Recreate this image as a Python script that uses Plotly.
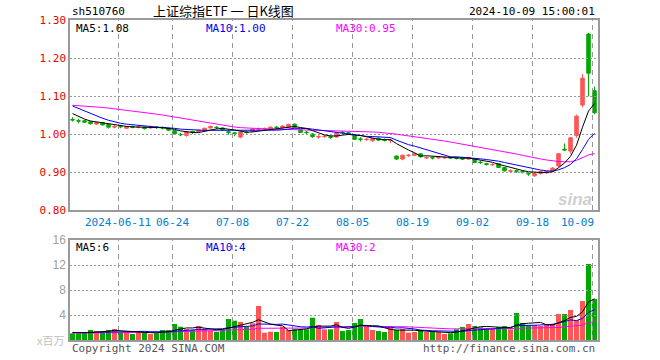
import plotly.graph_objects as go

# ---------------- data ----------------
dates = [
    "2024-05-29", "2024-05-30", "2024-05-31", "2024-06-03", "2024-06-04", "2024-06-05", "2024-06-06", "2024-06-07",
    "2024-06-11", "2024-06-12", "2024-06-13", "2024-06-14", "2024-06-17", "2024-06-18", "2024-06-19", "2024-06-20",
    "2024-06-21", "2024-06-24", "2024-06-25", "2024-06-26", "2024-06-27", "2024-06-28", "2024-07-01", "2024-07-02",
    "2024-07-03", "2024-07-04", "2024-07-05", "2024-07-08", "2024-07-09", "2024-07-10", "2024-07-11", "2024-07-12",
    "2024-07-15", "2024-07-16", "2024-07-17", "2024-07-18", "2024-07-19", "2024-07-22", "2024-07-23", "2024-07-24",
    "2024-07-25", "2024-07-26", "2024-07-29", "2024-07-30", "2024-07-31", "2024-08-01", "2024-08-02", "2024-08-05",
    "2024-08-06", "2024-08-07", "2024-08-08", "2024-08-09", "2024-08-12", "2024-08-13", "2024-08-14", "2024-08-15",
    "2024-08-16", "2024-08-19", "2024-08-20", "2024-08-21", "2024-08-22", "2024-08-23", "2024-08-26", "2024-08-27",
    "2024-08-28", "2024-08-29", "2024-08-30", "2024-09-02", "2024-09-03", "2024-09-04", "2024-09-05", "2024-09-06",
    "2024-09-09", "2024-09-10", "2024-09-11", "2024-09-12", "2024-09-13", "2024-09-18", "2024-09-19", "2024-09-20",
    "2024-09-23", "2024-09-24", "2024-09-25", "2024-09-26", "2024-09-27", "2024-09-30", "2024-10-08", "2024-10-09",
]

opens = [
    1.038, 1.035, 1.035, 1.032, 1.026, 1.030, 1.025, 1.018,
    1.020, 1.015, 1.019, 1.017, 1.018, 1.016, 1.018, 1.017,
    1.015, 1.009, 0.999, 0.996, 1.007, 1.006, 1.010, 1.016,
    1.018, 1.016, 1.006, 1.003, 0.992, 1.005, 1.007, 1.013,
    1.013, 1.013, 1.018, 1.016, 1.018, 1.026, 1.011, 1.005,
    1.000, 0.992, 0.993, 0.993, 0.992, 1.005, 1.003, 0.995,
    0.987, 0.985, 0.982, 0.989, 0.984, 0.983, 0.942, 0.934,
    0.943, 0.944, 0.948, 0.937, 0.938, 0.937, 0.937, 0.938,
    0.937, 0.937, 0.934, 0.934, 0.926, 0.922, 0.919, 0.922,
    0.912, 0.902, 0.903, 0.901, 0.896, 0.890, 0.896, 0.898,
    0.902, 0.916, 0.960, 0.955, 0.996, 1.076, 1.263, 1.114,
]
highs = [
    1.044, 1.040, 1.036, 1.033, 1.031, 1.031, 1.026, 1.024,
    1.024, 1.021, 1.022, 1.023, 1.019, 1.022, 1.021, 1.020,
    1.016, 1.010, 1.003, 1.008, 1.008, 1.012, 1.017, 1.022,
    1.021, 1.017, 1.010, 1.005, 1.007, 1.008, 1.015, 1.017,
    1.017, 1.020, 1.021, 1.023, 1.027, 1.027, 1.012, 1.008,
    1.002, 0.997, 0.998, 0.996, 1.005, 1.008, 1.006, 0.996,
    0.992, 0.990, 0.990, 0.991, 0.988, 0.988, 0.943, 0.946,
    0.947, 0.950, 0.949, 0.941, 0.940, 0.941, 0.941, 0.940,
    0.939, 0.938, 0.940, 0.935, 0.929, 0.924, 0.923, 0.923,
    0.913, 0.907, 0.906, 0.904, 0.899, 0.898, 0.904, 0.903,
    0.913, 0.950, 0.975, 0.992, 1.051, 1.158, 1.266, 1.125,
]
lows = [
    1.033, 1.028, 1.029, 1.025, 1.024, 1.022, 1.014, 1.015,
    1.015, 1.014, 1.015, 1.015, 1.012, 1.014, 1.013, 1.012,
    1.008, 0.998, 0.994, 0.993, 1.000, 1.004, 1.009, 1.014,
    1.013, 1.008, 0.998, 0.994, 0.989, 1.001, 1.006, 1.010,
    1.010, 1.012, 1.014, 1.015, 1.017, 1.016, 1.003, 0.999,
    0.990, 0.988, 0.990, 0.987, 0.990, 1.000, 0.998, 0.984,
    0.980, 0.982, 0.980, 0.982, 0.980, 0.976, 0.932, 0.931,
    0.940, 0.942, 0.938, 0.934, 0.933, 0.935, 0.935, 0.934,
    0.933, 0.932, 0.932, 0.923, 0.921, 0.917, 0.916, 0.911,
    0.901, 0.897, 0.898, 0.896, 0.890, 0.887, 0.893, 0.895,
    0.900, 0.912, 0.955, 0.948, 0.990, 1.070, 1.099, 1.052,
]
closes = [
    1.037, 1.034, 1.031, 1.027, 1.030, 1.024, 1.018, 1.020,
    1.019, 1.019, 1.018, 1.018, 1.014, 1.018, 1.017, 1.016,
    1.010, 1.000, 0.998, 1.006, 1.005, 1.010, 1.015, 1.020,
    1.017, 1.011, 1.004, 1.001, 1.005, 1.004, 1.013, 1.014,
    1.014, 1.018, 1.017, 1.021, 1.025, 1.018, 1.004, 1.004,
    0.993, 0.993, 0.994, 0.991, 1.003, 1.004, 1.002, 0.986,
    0.986, 0.986, 0.988, 0.984, 0.983, 0.984, 0.934, 0.944,
    0.944, 0.948, 0.940, 0.938, 0.937, 0.938, 0.938, 0.937,
    0.936, 0.934, 0.938, 0.925, 0.925, 0.920, 0.920, 0.912,
    0.903, 0.903, 0.902, 0.900, 0.895, 0.896, 0.901, 0.901,
    0.910, 0.948, 0.958, 0.990, 1.047, 1.147, 1.160, 1.056,
]
volumes = [  # 百万
    1.07, 1.07, 1.07, 1.60, 1.44, 1.33, 1.60, 1.76,
    1.17, 1.33, 0.96, 1.33, 1.33, 0.96, 1.07, 1.60,
    1.60, 2.56, 2.13, 1.76, 1.60, 2.24, 1.76, 1.44,
    1.33, 1.60, 3.36, 3.09, 2.88, 2.13, 2.67, 5.44,
    1.17, 1.33, 1.28, 2.13, 1.60, 1.71, 1.71, 1.71,
    3.57, 2.40, 1.71, 1.71, 2.88, 1.44, 1.60, 2.72,
    3.36, 2.13, 1.60, 1.44, 1.28, 2.03, 1.60, 1.76,
    1.17, 1.28, 1.60, 1.28, 1.28, 1.28, 0.96, 1.07,
    1.71, 2.08, 2.56, 2.24, 2.03, 1.92, 1.76, 2.08,
    2.24, 1.71, 4.32, 2.72, 2.40, 2.40, 2.24, 2.40,
    2.56, 4.16, 4.16, 4.80, 3.20, 6.24, 12.16, 6.56,
]
# sessions before the visible window (only feed the moving averages)
prior_closes = [
    1.060, 1.062, 1.065, 1.063, 1.068, 1.070, 1.072, 1.069, 1.074, 1.078,
    1.080, 1.082, 1.079, 1.083, 1.086, 1.088, 1.085, 1.089, 1.091, 1.087,
    1.100, 1.098, 1.095, 1.090, 1.085, 1.072, 1.066, 1.052, 1.042,
]
prior_volumes = [
    1.10, 1.00, 1.20, 0.90, 1.10, 1.30, 1.00, 1.10, 0.90, 1.20,
    1.00, 1.10, 1.20, 1.00, 0.90, 1.10, 1.00, 1.20, 1.10, 1.00,
    1.30, 1.10, 1.00, 1.20, 1.10, 1.30, 1.20, 1.30, 1.20,
]

tick_dates = ["2024-06-11", "2024-06-24", "2024-07-08", "2024-07-22", "2024-08-05",
              "2024-08-19", "2024-09-02", "2024-09-18", "2024-10-09"]
tick_labels = ["2024-06-11", "06-24", "07-08", "07-22", "08-05", "08-19", "09-02", "09-18", "10-09"]
price_ticks = [0.80, 0.90, 1.00, 1.10, 1.20, 1.30]
volume_ticks = [4, 8, 12, 16]

# ---------------- derived ----------------
n = len(dates)
slot = [i + 0.42 for i in range(n)]           # candle centre within each day slot
tick_pos = [dates.index(d) for d in tick_dates]


def moving_average(prior, vals, k):
    full = prior + vals
    p = len(prior)
    return [sum(full[p + i - k + 1:p + i + 1]) / k for i in range(len(vals))]


ma5 = moving_average(prior_closes, closes, 5)
ma10 = moving_average(prior_closes, closes, 10)
ma30 = moving_average(prior_closes, closes, 30)
vma5 = moving_average(prior_volumes, volumes, 5)
vma10 = moving_average(prior_volumes, volumes, 10)
vma30 = moving_average(prior_volumes, volumes, 30)

RED = "#ff5555"
GREEN = "#00a800"
vol_colors = []
for i in range(n):
    if closes[i] > opens[i]:
        vol_colors.append(RED)
    elif closes[i] < opens[i]:
        vol_colors.append(GREEN)
    else:
        vol_colors.append(RED if i == 0 or closes[i] >= closes[i - 1] else GREEN)

# ---------------- geometry ----------------
L, R, T, B = 70, 62, 20, 20
W, H = 660, 360
PW, PH = W - L - R, H - T - B
MAIN_BOTTOM_PX = 210        # price panel: 20..210 px  (380 px per 1.00)
VOL_TOP_PX = 240            # volume panel: 240..340 px (6.25 px per unit)
PRICE_RANGE = (0.80, 1.30)
VOL_RANGE = (0, 16)


def px(xp):
    return (xp - L) / PW


def py(yp):
    return (H - B - yp) / PH


# half-pixel nudges so the 1px grid lines land on whole pixels
HALF_X = 0.5 * n / PW
HALF_P = 0.5 * (PRICE_RANGE[1] - PRICE_RANGE[0]) / (MAIN_BOTTOM_PX - T)
HALF_V = 0.5 * (VOL_RANGE[1] - VOL_RANGE[0]) / (H - B - VOL_TOP_PX)

MONO = "DejaVu Sans Mono"
GRID = "#999999"
fig = go.Figure()


def grid_trace(xs, ys, dash, xa, ya):
    fig.add_trace(go.Scatter(x=xs, y=ys, mode="lines", line=dict(color=GRID, width=1, dash=dash),
                             xaxis=xa, yaxis=ya, showlegend=False, hoverinfo="skip"))


for xa, ya, yr, yt, half in (("x", "y", PRICE_RANGE, price_ticks[1:-1], HALF_P),
                             ("x2", "y2", VOL_RANGE, volume_ticks[:-1], HALF_V)):
    vx, vy = [], []
    for pos in tick_pos:
        vx += [pos + HALF_X, pos + HALF_X, None]
        vy += [yr[0], yr[1], None]
    grid_trace(vx, vy, "5px,4px", xa, ya)
    hx, hy = [], []
    for v in yt:
        hx += [0, n, None]
        hy += [v - half, v - half, None]
    grid_trace(hx, hy, "2px,2px", xa, ya)

fig.add_trace(go.Candlestick(
    x=slot, open=opens, high=highs, low=lows, close=closes,
    increasing=dict(line=dict(color=RED, width=1), fillcolor=RED),
    decreasing=dict(line=dict(color=GREEN, width=1), fillcolor=GREEN),
    whiskerwidth=0, xaxis="x", yaxis="y", showlegend=False, hoverinfo="skip",
))
for vals, col in ((ma30, "#ff00ff"), (ma10, "#0000ff"), (ma5, "#000000")):
    fig.add_trace(go.Scatter(x=slot, y=vals, mode="lines", line=dict(color=col, width=1),
                             xaxis="x", yaxis="y", showlegend=False, hoverinfo="skip"))

fig.add_trace(go.Bar(x=slot, y=volumes, width=0.84, marker=dict(color=vol_colors, line=dict(width=0)),
                     xaxis="x2", yaxis="y2", showlegend=False, hoverinfo="skip"))
for vals, col in ((vma30, "#ff00ff"), (vma10, "#0000ff"), (vma5, "#000000")):
    fig.add_trace(go.Scatter(x=slot, y=vals, mode="lines", line=dict(color=col, width=1),
                             xaxis="x2", yaxis="y2", showlegend=False, hoverinfo="skip"))

axis_common = dict(range=[0, n], showgrid=False, tickvals=tick_pos, showticklabels=False, ticks="",
                   zeroline=False, showline=True, mirror=True, linecolor="#9a9a9a", linewidth=1.5,
                   rangeslider=dict(visible=False))

yaxis_common = dict(showgrid=False, zeroline=False, showline=True, mirror=True,
                    linecolor="#9a9a9a", linewidth=1.5, ticks="")

fig.update_layout(
    width=W, height=H, margin=dict(l=L, r=R, t=T, b=B),
    paper_bgcolor="white", plot_bgcolor="white", boxgap=0.16, bargap=0.16,
    xaxis=dict(axis_common, domain=[0, 1], anchor="y"),
    xaxis2=dict(axis_common, domain=[0, 1], anchor="y2", matches="x"),
    yaxis=dict(yaxis_common, domain=[py(MAIN_BOTTOM_PX), 1], range=list(PRICE_RANGE), tickvals=price_ticks,
               ticktext=[f"{v:.2f}" for v in price_ticks],
               tickfont=dict(family=MONO, size=11, color="#ee0000")),
    yaxis2=dict(yaxis_common, domain=[0, py(VOL_TOP_PX)], range=list(VOL_RANGE), tickvals=volume_ticks,
                tickfont=dict(family="Liberation Sans", size=12, color="#a0a0a0")),
    font=dict(family=MONO),
)

ann = []


def text(xp, yp, s, color="#000000", size=11, xanchor="left", family=MONO, **kw):
    ann.append(dict(x=px(xp), y=py(yp), xref="paper", yref="paper", text=s, showarrow=False,
                    xanchor=xanchor, yanchor="middle", font=dict(family=family, size=size, color=color), **kw))


# header
text(70, 11, "sh510760", size=11)
text(223, 10, "上证综指ETF 一 日K线图", size=13, xanchor="center", family="Noto Sans CJK SC")
text(597, 11, "2024-10-09 15:00:01", size=11, xanchor="right")
# MA readouts (price)
text(74, 28, f"MA5:{ma5[-1]:.2f}", color="#000000")
text(204, 28, f"MA10:{ma10[-1]:.2f}", color="#0000ee")
text(334, 28, f"MA30:{ma30[-1]:.2f}", color="#ff00ff")
# MA readouts (volume)
text(74, 247, f"MA5:{int(vma5[-1])}", color="#000000")
text(204, 247, f"MA10:{int(vma10[-1])}", color="#0000ee")
text(334, 247, f"MA30:{int(vma30[-1])}", color="#ff00ff")
# date labels
for pos, lab in zip(tick_pos, tick_labels):
    xc = L + pos * PW / n
    if pos == n - 1:
        xc -= 15
    text(xc, 222, lab, color="#0080d0", xanchor="center")
# footer
text(66, 340, "x百万", color="#c0c0c0", size=11, xanchor="right", family="Noto Sans CJK SC")
text(70, 348, "Copyright 2024 SINA.COM", color="#555555", size=11)
text(597, 348, "http://finance.sina.com.cn", color="#555555", size=11, xanchor="right")
# watermark
text(594, 199, "<b><i>sina</i></b>", color="rgba(190,190,190,0.75)", size=17, xanchor="right",
     family="Liberation Sans")

fig.update_layout(annotations=ann)
fig.write_html("out.html", config={"displayModeBar": False},
               post_script="document.body.style.margin='0';document.body.style.overflow='hidden';")
